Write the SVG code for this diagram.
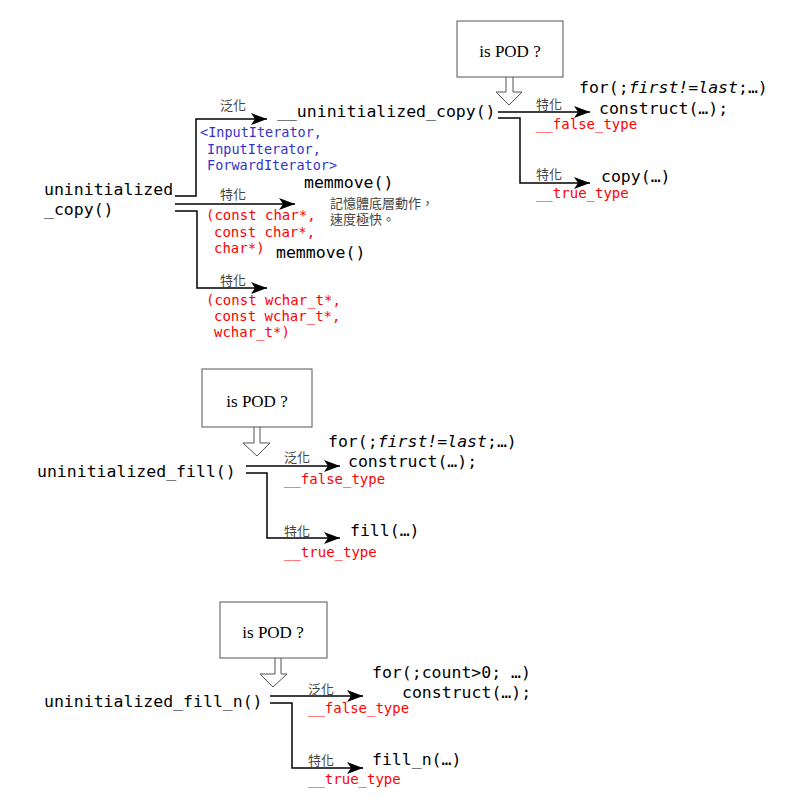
<svg xmlns="http://www.w3.org/2000/svg" width="787" height="803" viewBox="0 0 787 803">
<style>
.m{font-family:"DejaVu Sans Mono","Liberation Mono",monospace;font-size:16.5px;fill:#000}
.r{font-family:"DejaVu Sans Mono","Liberation Mono",monospace;font-size:14px;fill:#f00}
.b{font-family:"DejaVu Sans Mono","Liberation Mono",monospace;font-size:13.5px;fill:#3333cc}
.c{font-family:"Noto Sans CJK TC","Noto Sans CJK SC",sans-serif;font-size:13px;fill:#444}
.p{font-family:"Liberation Serif",serif;font-size:17px;fill:#000;text-anchor:middle}
.box{fill:#fff;stroke:#555;stroke-width:1}
.ln{fill:none;stroke:#000;stroke-width:1.5}
.ha{fill:#fff;stroke:#555;stroke-width:1}
</style>
<defs>
<marker id="ah" markerUnits="userSpaceOnUse" markerWidth="16" markerHeight="12" refX="16" refY="6" orient="auto">
<path d="M0,0 L16,6 L0,12 L4,6 z" fill="#000"/>
</marker>
</defs>
<g id="connectors">
<path class="ln" d="M175,196 H196 V119 H267" marker-end="url(#ah)"/>
<path class="ln" d="M175,204 H295" marker-end="url(#ah)"/>
<path class="ln" d="M175,211 H197 V288 H267" marker-end="url(#ah)"/>
<path class="ln" d="M498,112 H590" marker-end="url(#ah)"/>
<path class="ln" d="M498,118 H520 V183 H590" marker-end="url(#ah)"/>
<path class="ln" d="M246,466 H340" marker-end="url(#ah)"/>
<path class="ln" d="M246,473 H267 V538 H340" marker-end="url(#ah)"/>
<path class="ln" d="M270,696 H363" marker-end="url(#ah)"/>
<path class="ln" d="M270,703 H292 V768 H363" marker-end="url(#ah)"/>
<path class="ha" d="M506,77 V92 H496 L509,105 L522,92 H513 V77"/>
<path class="ha" d="M254,427 V443 H243 L257,456 L270,443 H260 V427"/>
<path class="ha" d="M275,658 V674 H260 L273,687 L287,674 H281 V658"/>
</g>
<g id="pod1"><rect class="box" x="457" y="21" width="106" height="56"/><text class="p" x="510" y="57">is POD ?</text></g>
<g id="pod2"><rect class="box" x="202" y="369" width="110" height="58"/><text class="p" x="257" y="407">is POD ?</text></g>
<g id="pod3"><rect class="box" x="220" y="602" width="107" height="56"/><text class="p" x="273" y="638">is POD ?</text></g>
<g id="ucopy"><text class="m" x="44" y="195">uninitialized</text><text class="m" x="44" y="215">_copy()</text></g>
<g id="labels1">
<text class="c" x="220" y="110">泛化</text>
<text class="m" x="277" y="117">__uninitialized_copy()</text>
<text class="b" x="200" y="137">&lt;InputIterator,</text>
<text class="b" x="207" y="154">InputIterator,</text>
<text class="b" x="207" y="170">ForwardIterator&gt;</text>
<text class="c" x="220" y="199">特化</text>
<text class="m" x="304" y="188">memmove()</text>
<text class="c" x="330" y="208">記憶體底層動作，</text>
<text class="c" x="330" y="224">速度極快。</text>
<text class="r" x="206" y="220">(const char*,</text>
<text class="r" x="214" y="237">const char*,</text>
<text class="r" x="214" y="253">char*)</text>
<text class="m" x="276" y="258">memmove()</text>
<text class="c" x="220" y="285">特化</text>
<text class="r" x="206" y="305">(const wchar_t*,</text>
<text class="r" x="214" y="321">const wchar_t*,</text>
<text class="r" x="214" y="337">wchar_t*)</text>
</g>
<g id="ucopy2">
<text class="m" x="579" y="93">for(;<tspan font-style="italic">first!=last</tspan>;…)</text>
<text class="m" x="599" y="114">construct(…);</text>
<text class="c" x="536" y="109">特化</text>
<text class="r" x="536" y="129">__false_type</text>
<text class="c" x="536" y="179">特化</text>
<text class="m" x="601" y="182">copy(…)</text>
<text class="r" x="536" y="198">__true_type</text>
</g>
<g id="ufill">
<text class="m" x="37" y="477">uninitialized_fill()</text>
<text class="c" x="284" y="462">泛化</text>
<text class="m" x="328" y="447">for(;<tspan font-style="italic">first!=last</tspan>;…)</text>
<text class="m" x="348" y="467">construct(…);</text>
<text class="r" x="284" y="484">__false_type</text>
<text class="c" x="284" y="536">特化</text>
<text class="m" x="350" y="536">fill(…)</text>
<text class="r" x="284" y="557">__true_type</text>
</g>
<g id="ufilln">
<text class="m" x="44" y="707">uninitialized_fill_n()</text>
<text class="c" x="308" y="694">泛化</text>
<text class="m" x="372" y="678">for(;count&gt;0; …)</text>
<text class="m" x="402" y="698">construct(…);</text>
<text class="r" x="308" y="713">__false_type</text>
<text class="c" x="308" y="765">特化</text>
<text class="m" x="372" y="765">fill_n(…)</text>
<text class="r" x="308" y="784">__true_type</text>
</g>
</svg>
